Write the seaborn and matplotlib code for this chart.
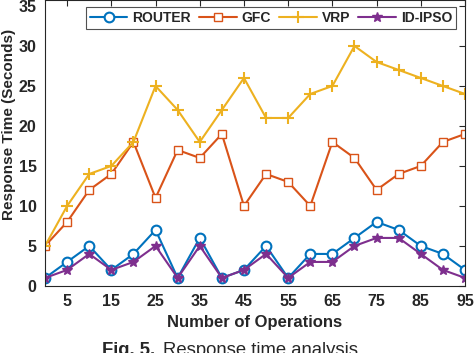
# response time line chart, matlab style

import matplotlib
matplotlib.use('Agg')
import matplotlib.pyplot as plt
import seaborn as sns
import pandas as pd

operations = [0, 5, 10, 15, 20, 25, 30, 35, 40, 45, 50, 55, 60, 65, 70, 75, 80, 85, 90, 95]
router = [1, 3, 5, 2, 4, 7, 1, 6, 1, 2, 5, 1, 4, 4, 6, 8, 7, 5, 4, 2]
gfc = [5, 8, 12, 14, 18, 11, 17, 16, 19, 10, 14, 13, 10, 18, 16, 12, 14, 15, 18, 19]
vrp = [5, 10, 14, 15, 18, 25, 22, 18, 22, 26, 21, 21, 24, 25, 30, 28, 27, 26, 25, 24]
id_ipso = [1, 2, 4, 2, 3, 5, 1, 5, 1, 2, 4, 1, 3, 3, 5, 6, 6, 4, 2, 1]

series_names = ['ROUTER', 'GFC', 'VRP', 'ID-IPSO']
x_ticks = [5, 15, 25, 35, 45, 55, 65, 75, 85, 95]
y_ticks = [0, 5, 10, 15, 20, 25, 30, 35]

df = pd.DataFrame({'ops': operations, 'ROUTER': router, 'GFC': gfc,
                   'VRP': vrp, 'ID-IPSO': id_ipso})

sns.set_style('white')
plt.rcParams['font.family'] = ['Liberation Sans', 'DejaVu Sans']

fig = plt.figure(figsize=(4.74, 3.53), dpi=100)
ax = fig.add_axes([0.095, 0.19, 0.886, 0.81])

styles = {
    'ROUTER': dict(color='#0072BD', marker='o', markerfacecolor='white', markersize=7, markeredgewidth=1.5),
    'GFC': dict(color='#D95319', marker='s', markerfacecolor='white', markersize=6, markeredgewidth=1.0),
    'VRP': dict(color='#EDB120', marker='+', markersize=8, markeredgewidth=1.5),
    'ID-IPSO': dict(color='#7E2F8E', marker='*', markersize=7, markeredgewidth=1.0),
}

for name in series_names:
    st = styles[name]
    sns.lineplot(data=df, x='ops', y=name, ax=ax, label=name, linewidth=1.5,
                 color=st['color'], marker=st['marker'], markersize=st['markersize'],
                 markerfacecolor=st.get('markerfacecolor', st['color']),
                 markeredgecolor=st['color'], markeredgewidth=st['markeredgewidth'])

ax.set_xlim(0, 95)
ax.set_ylim(0, 35.75)
ax.set_xticks(x_ticks)
ax.set_yticks(y_ticks)
ax.tick_params(direction='in', top=True, right=True, length=4, width=0.8,
               labelsize=11.5, colors='#262626', pad=6)
for lab in ax.get_xticklabels() + ax.get_yticklabels():
    lab.set_fontweight('bold')
for sp in ax.spines.values():
    sp.set_color('#262626')
    sp.set_linewidth(0.8)

ax.set_xlabel('Number of Operations', fontsize=12, fontweight='bold', labelpad=4)
ax.set_ylabel('Response Time (Seconds)', fontsize=11, fontweight='bold')
ax.yaxis.set_label_coords(-0.07, 0.566)

leg = ax.legend(loc='upper center', bbox_to_anchor=(0.538, 0.985), ncol=4,
                prop={'weight': 'bold', 'size': 10}, frameon=True, fancybox=False,
                handlelength=2.7, columnspacing=0.6, handletextpad=0.35,
                borderpad=0.3, borderaxespad=0.2)
leg.get_frame().set_edgecolor('#262626')
leg.get_frame().set_linewidth(0.8)

fig.text(0.215, 0.03, 'Fig. 5.', fontsize=13.3, fontweight='bold', va='top', ha='left')
fig.text(0.344, 0.03, 'Response time analysis', fontsize=13.3, va='top', ha='left')

fig.savefig('out.png', dpi=100)
